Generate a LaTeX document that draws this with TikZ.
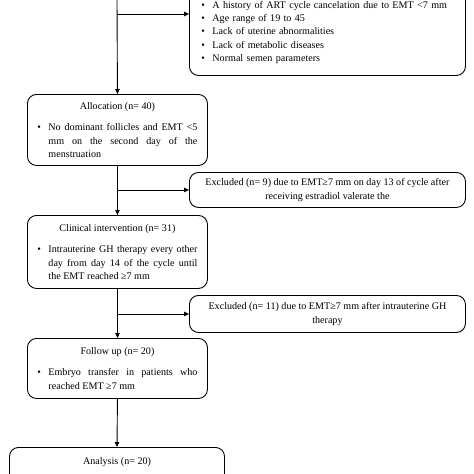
\documentclass[tikz,border=0pt]{standalone}
\usepackage{fontspec}
\setmainfont{Liberation Serif}
\usetikzlibrary{arrows.meta}
\newcommand{\bitem}[1]{\par\noindent\hangindent=11pt\hangafter=1\makebox[11pt][l]{\textbullet}#1\par}
\newcommand{\jbox}[3]{\begin{minipage}{#1}{\centering #2\par}\vspace{8pt}\noindent\hangindent=11pt\hangafter=1\makebox[11pt][l]{\textbullet}#3\par\end{minipage}}
\begin{document}
\begin{tikzpicture}[x=1pt,y=1pt,
  box/.style={draw, line width=0.9pt, rounded corners=9pt, font=\fontsize{10.1}{13.2}\selectfont},
  arr/.style={-{Triangle[length=5pt,width=4.5pt]}, line width=0.9pt}]
\useasboundingbox (0,0) rectangle (474,-474);
\fill[white] (0,0) rectangle (474,-474);

\node[box, anchor=north west, text width=252pt, inner xsep=12pt, minimum height=92pt, align=left] (incl) at (189,17)
 {\bitem{A history of ART cycle cancelation due to EMT <7 mm}\bitem{Age range of 19 to 45}\bitem{Lack of uterine abnormalities}\bitem{Lack of metabolic diseases}\bitem{Normal semen parameters}};

\node[box, anchor=north west, inner xsep=10pt, minimum width=180pt, minimum height=71pt] (alloc) at (27,-94)
 {\jbox{160pt}{Allocation (n= 40)}{No dominant follicles and EMT <5\linebreak mm on the second day of the\linebreak menstruation}};

\node[box, anchor=north west, minimum width=276pt, minimum height=35pt, align=center] (ex1) at (189,-172)
 {Excluded (n= 9) due to EMT≥7 mm on day 13 of cycle after\\receiving estradiol valerate the};

\node[box, anchor=north west, inner xsep=10pt, minimum width=180pt, minimum height=73pt] (clin) at (27,-215)
 {\jbox{160pt}{Clinical intervention (n= 31)}{Intrauterine GH therapy every other\linebreak day from day 14 of the cycle until\linebreak the EMT reached ≥7 mm}};

\node[box, anchor=north west, minimum width=276pt, minimum height=37pt, align=center] (ex2) at (189,-295)
 {Excluded (n= 11) due to EMT≥7 mm after intrauterine GH\\therapy};

\node[box, anchor=north west, inner xsep=10pt, minimum width=180pt, minimum height=60pt] (fol) at (27,-338)
 {\jbox{160pt}{Follow up (n= 20)}{Embryo transfer in patients who\linebreak reached EMT ≥7 mm}};

\node[box, anchor=north, minimum width=215pt, text height=13.5pt, text depth=40pt] (ana) at (117,-447)
 {Analysis (n= 20)};

\coordinate (top) at (117,0);
\coordinate (b0) at (117,-14);
\draw[arr] (top) -- (alloc.north);
\draw[arr] (b0) -- (b0 -| incl.west);
\draw[arr] (alloc.south) -- (clin.north);
\draw[arr] (alloc.south |- ex1.west) -- (ex1.west);
\draw[arr] (clin.south) -- (fol.north);
\draw[arr] (clin.south |- ex2.west) -- (ex2.west);
\draw[arr] (fol.south) -- (ana.north);
\end{tikzpicture}
\end{document}
